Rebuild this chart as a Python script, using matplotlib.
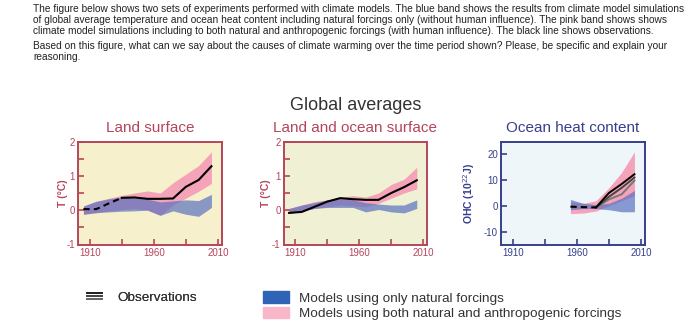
import matplotlib
matplotlib.use("Agg")
import matplotlib.pyplot as plt
from matplotlib.lines import Line2D
from matplotlib.patches import Patch
from matplotlib.legend_handler import HandlerBase

plt.rcParams["font.family"] = ["Liberation Sans", "DejaVu Sans"]
plt.rcParams["axes.unicode_minus"] = False

# ---- data (decadal means) ----
years = [1905, 1915, 1925, 1935, 1945, 1955, 1965, 1975, 1985, 1995, 2005]

land_obs = [0.03, 0.03, 0.20, 0.36, 0.37, 0.33, 0.33, 0.34, 0.68, 0.88, 1.28]
land_pink_lo = [-0.12, -0.08, -0.02, 0.02, 0.05, 0.00, -0.15, 0.15, 0.35, 0.55, 0.78]
land_pink_hi = [0.12, 0.25, 0.35, 0.43, 0.50, 0.56, 0.50, 0.80, 1.05, 1.30, 1.70]
land_blue_lo = [-0.12, -0.07, -0.05, -0.03, -0.02, 0.00, -0.15, -0.02, -0.12, -0.18, 0.08]
land_blue_hi = [0.12, 0.26, 0.33, 0.38, 0.36, 0.32, 0.24, 0.27, 0.30, 0.28, 0.46]

lo_obs = [-0.08, -0.05, 0.10, 0.25, 0.35, 0.32, 0.30, 0.30, 0.50, 0.67, 0.87]
lo_pink_lo = [-0.10, -0.03, 0.05, 0.10, 0.15, 0.12, 0.10, 0.20, 0.35, 0.50, 0.62]
lo_pink_hi = [0.05, 0.15, 0.25, 0.30, 0.38, 0.42, 0.38, 0.50, 0.75, 0.90, 1.25]
lo_blue_lo = [-0.08, -0.02, 0.05, 0.08, 0.08, 0.08, -0.05, 0.02, -0.05, -0.08, 0.05]
lo_blue_hi = [0.05, 0.15, 0.22, 0.30, 0.33, 0.30, 0.22, 0.18, 0.15, 0.15, 0.30]

ohc_years = [1955, 1965, 1975, 1985, 1995, 2005]
ohc_obs = [
    [-0.3, -0.5, -0.6, 5.0, 8.5, 12.3],
    [-0.3, -0.6, -0.6, 3.5, 7.0, 11.0],
    [-0.3, -0.6, -0.6, 2.5, 4.5, 9.8],
]
ohc_pink_lo = [-3.0, -2.8, -2.0, 0.0, 2.0, 4.0]
ohc_pink_hi = [1.5, 1.0, 2.0, 7.0, 13.0, 21.0]
ohc_blue_lo = [-1.5, -1.0, -1.0, -1.5, -2.3, -2.3]
ohc_blue_hi = [2.5, 1.0, 0.5, 1.0, 3.0, 6.0]

intro = [
    "The figure below shows two sets of experiments performed with climate models. The blue band shows the results from climate model simulations",
    "of global average temperature and ocean heat content including natural forcings only (without human influence). The pink band shows shows",
    "climate model simulations including to both natural and anthropogenic forcings (with human influence). The black line shows observations.",
]
question = [
    "Based on this figure, what can we say about the causes of climate warming over the time period shown? Please, be specific and explain your",
    "reasoning.",
]

PINK = "#f5a3b8"
BLUE = "#5a72c0"
RED = "#b5455a"
NAVY = "#363f8c"


def style_axes(ax, color, bg, ylim, yticks, yminor, ylabel, label_x):
    ax.set_facecolor(bg)
    ax.set_xlim(1901, 2013)
    ax.set_ylim(*ylim)
    ax.set_xticks([1910, 1935, 1960, 1985, 2010])
    ax.set_xticklabels(["1910", "", "1960", "", "2010"])
    ax.set_yticks(yticks)
    ax.set_yticks(yminor, minor=True)
    for s in ax.spines.values():
        s.set_color(color)
        s.set_linewidth(1.4)
    ax.tick_params(which="both", direction="in", length=4, width=1.2,
                   colors=color, labelsize=7, pad=2.5)
    ax.set_ylabel(ylabel, color=color, fontsize=7.5, fontweight="bold")
    ax.yaxis.set_label_coords(label_x, 0.5)


fig = plt.figure(figsize=(7.0, 3.24), dpi=100)

y0 = 1 - 244.5 / 324
h = 103 / 324
ax1 = fig.add_axes([78.3 / 700, y0, 143.4 / 700, h])
ax2 = fig.add_axes([284 / 700, y0, 143 / 700, h])
ax3 = fig.add_axes([501.3 / 700, y0, 143.4 / 700, h])

# land surface
ax1.fill_between(years, land_pink_lo, land_pink_hi, color=PINK, lw=0)
ax1.fill_between(years, land_blue_lo, land_blue_hi, color=BLUE, alpha=0.7, lw=0)
ax1.plot(years[:4], land_obs[:4], color="black", lw=1.5, ls=(0, (3, 2)))
ax1.plot(years[3:], land_obs[3:], color="black", lw=1.5)
style_axes(ax1, RED, "#f7f0cd", (-1, 2), [-1, 0, 1, 2], [-0.5, 0.5, 1.5], "T (°C)", -0.075)

# land and ocean surface
ax2.fill_between(years, lo_pink_lo, lo_pink_hi, color=PINK, lw=0)
ax2.fill_between(years, lo_blue_lo, lo_blue_hi, color=BLUE, alpha=0.7, lw=0)
ax2.plot(years, lo_obs, color="black", lw=1.5)
style_axes(ax2, RED, "#f0f0d4", (-1, 2), [-1, 0, 1, 2], [-0.5, 0.5, 1.5], "T (°C)", -0.09)

# ocean heat content
ax3.fill_between(ohc_years, ohc_pink_lo, ohc_pink_hi, color=PINK, lw=0)
ax3.fill_between(ohc_years, ohc_blue_lo, ohc_blue_hi, color=BLUE, alpha=0.7, lw=0)
for vals, c in zip(ohc_obs[::-1], ["#777777", "#444444", "black"]):
    ax3.plot(ohc_years[2:], vals[2:], color=c, lw=1.4)
ax3.plot(ohc_years[:3], ohc_obs[0][:3], color="black", lw=1.5, ls=(0, (3, 2)))
style_axes(ax3, NAVY, "#eef6fa", (-15, 25), [-10, 0, 10, 20], [], "OHC (10$^{22}$J)", -0.17)

# titles
fig.text(356 / 700, 1 - 105 / 324, "Global averages", ha="center", va="center",
         fontsize=13, color="#333333")
for ax, t, c in [(ax1, "Land surface", RED), (ax2, "Land and ocean surface", RED),
                 (ax3, "Ocean heat content", NAVY)]:
    pos = ax.get_position()
    fig.text((pos.x0 + pos.x1) / 2, 1 - 128 / 324, t, color=c, fontsize=11,
             ha="center", va="center")

# question text
for i, line in enumerate(intro):
    fig.text(33 / 700, 1 - (8.5 + 11.5 * i) / 324, line, fontsize=7.25, color="#222222",
             va="center", ha="left")
for i, line in enumerate(question):
    fig.text(33 / 700, 1 - (46 + 11.5 * i) / 324, line, fontsize=7.25, color="#222222",
             va="center", ha="left")


class TripleLine(HandlerBase):
    def create_artists(self, legend, orig, xd, yd, w, hh, fs, trans):
        return [Line2D([-xd, -xd + w], [-yd + hh * f] * 2, color=c, lw=1.3, transform=trans)
                for f, c in [(0.1, "#666666"), (0.5, "#444444"), (0.9, "#222222")]]


obs_handle = Line2D([], [], color="black")
leg1 = fig.legend([obs_handle], ["Observations"], handler_map={Line2D: TripleLine()},
                  loc="center left", bbox_to_anchor=(86.8 / 700, 1 - 298 / 324),
                  frameon=False, fontsize=9.7, handlelength=1.1, handleheight=0.5,
                  handletextpad=1.2, borderpad=0, borderaxespad=0)
for t in leg1.get_texts():
    t.set_color("#333333")
fig.add_artist(leg1)

leg2 = fig.legend([Patch(color="#2f63b5"), Patch(color="#f7b7c9")],
                  ["Models using only natural forcings",
                   "Models using both natural and anthropogenic forcings"],
                  loc="center left", bbox_to_anchor=(262.8 / 700, 1 - 305.7 / 324),
                  frameon=False, fontsize=9.7, handlelength=1.93, handleheight=0.9,
                  handletextpad=0.75, labelspacing=0.15, borderpad=0, borderaxespad=0)
for t in leg2.get_texts():
    t.set_color("#333333")

fig.savefig("out.png", dpi=100)
